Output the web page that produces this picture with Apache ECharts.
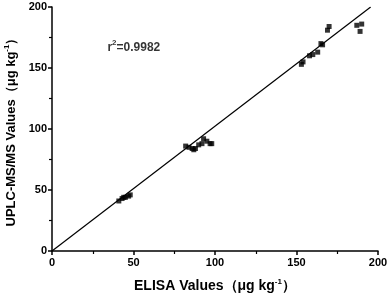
<!DOCTYPE html>
<html><head><meta charset="utf-8">
<script src="https://cdn.jsdelivr.net/npm/echarts@6/dist/echarts.min.js"></script>
<style>html,body{margin:0;padding:0;background:#fff}#c{width:389px;height:303px}</style>
</head><body><div id="c"></div>
<script>
var elisa = [41,43,44,45,47,48, 82,84,86,87,88,90,92,93,95,97,98, 153,154,158,160,163,165,166,169,170, 187,189,190];
var uplc  = [41,43,44,44,45,46, 86,85,84,83,84,87,88,92,90,88,88, 153,155,160,161,163,170,169,181,184, 185,180,186];
var fitLine = [[0,0],[195.5,200]];
var r2Pos = [[34,167]];
var pts = elisa.map(function(v,i){return [v, uplc[i]];});
var chart = echarts.init(document.getElementById('c'));
var ff = 'Liberation Sans, Arial, sans-serif';
var supRich = function(fs){return {a:{fontFamily:ff,fontWeight:'bold',fontSize:fs,color:'#000'},s:{fontFamily:ff,fontWeight:'bold',fontSize:8,color:'#000',verticalAlign:'top',padding:[0,0,8,0]}};};
chart.setOption({
  animation:false,
  grid:{left:52,right:11,top:7,bottom:52,containLabel:false,outerBoundsMode:'none'},
  xAxis:{type:'value',min:0,max:200,interval:50,
    name:'{a|ELISA Values（μg kg}{s|-1}{a|）}',nameLocation:'middle',nameGap:27,
    nameTextStyle:{rich:supRich(14)},
    axisLine:{lineStyle:{color:'#000',width:1.5}},
    axisTick:{length:4,lineStyle:{color:'#000',width:1.5}},
    minorTick:{show:true,splitNumber:2,length:3,lineStyle:{color:'#000',width:1.2}},
    axisLabel:{fontFamily:ff,fontWeight:'bold',fontSize:11,color:'#000',margin:6},
    splitLine:{show:false}},
  yAxis:{type:'value',min:0,max:200,interval:50,
    name:'{a|UPLC-MS/MS Values（μg kg}{s|-1}{a|）}',nameLocation:'middle',nameGap:29,
    nameTextStyle:{rich:supRich(13)},
    axisLine:{show:true,lineStyle:{color:'#000',width:1.5}},
    axisTick:{show:true,length:4,lineStyle:{color:'#000',width:1.5}},
    minorTick:{show:true,splitNumber:2,length:3,lineStyle:{color:'#000',width:1.2}},
    axisLabel:{fontFamily:ff,fontWeight:'bold',fontSize:11,color:'#000',margin:5},
    splitLine:{show:false}},
  series:[
    {type:'line',data:fitLine,symbol:'none',lineStyle:{color:'#000',width:1.2},z:1},
    {type:'scatter',data:pts,symbol:'rect',symbolSize:5,itemStyle:{color:'#000'},z:2},
    {type:'scatter',data:r2Pos,symbolSize:0,silent:true,
     label:{show:true,position:'right',distance:0,formatter:'{a|r}{s|2}{a|=0.9982}',rich:supRich(12)}}
  ]
});
</script></body></html>
